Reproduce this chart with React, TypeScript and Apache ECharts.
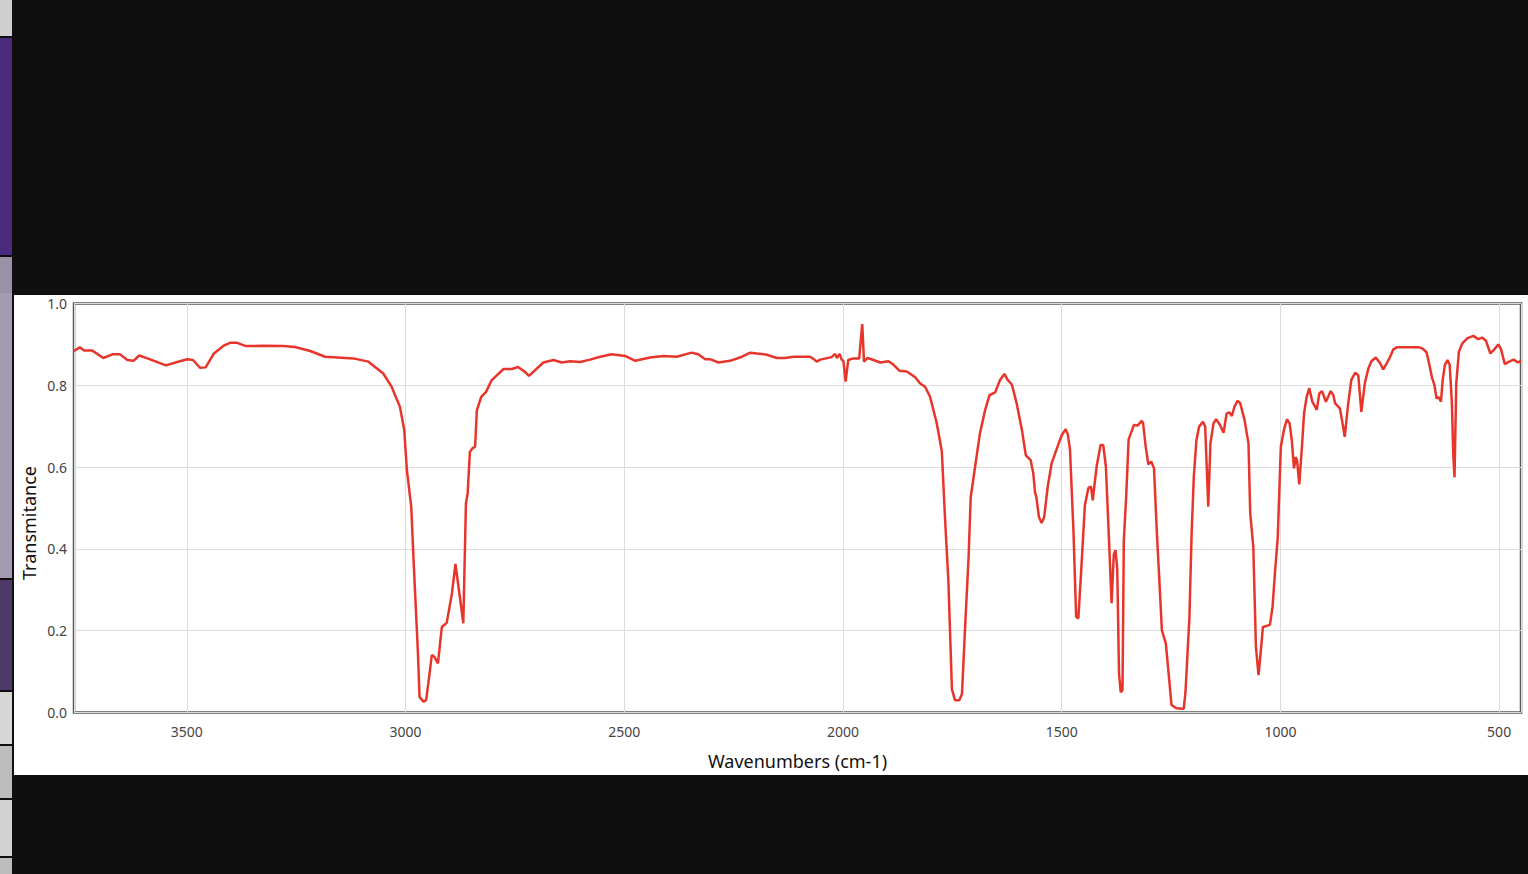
import React, { useEffect, useRef } from "react";
import * as echarts from "echarts";

const wavenumbers: number[] = [
  3758, 3745, 3735, 3716, 3691, 3670, 3653, 3636, 3622, 3609, 3590, 3548, 3522, 3499, 3486, 3470, 3457, 3438,
  3416, 3401, 3385, 3365, 3325, 3279, 3253, 3218, 3184, 3119, 3085, 3051, 3032, 3024, 3013, 3003, 2997, 2987,
  2981, 2972, 2968, 2959, 2953, 2948, 2940, 2934, 2926, 2917, 2906, 2894, 2886, 2879, 2868, 2862, 2858, 2853,
  2847, 2841, 2837, 2827, 2816, 2803, 2776, 2757, 2743, 2727, 2718, 2685, 2662, 2643, 2624, 2601, 2578, 2555,
  2529, 2498, 2475, 2441, 2411, 2380, 2346, 2331, 2315, 2304, 2285, 2258, 2231, 2212, 2197, 2174, 2151, 2132,
  2113, 2075, 2068, 2060, 2052, 2026, 2018, 2014, 2008, 2003, 1999, 1994, 1988, 1976, 1963, 1956, 1952, 1944,
  1930, 1915, 1896, 1885, 1871, 1854, 1835, 1824, 1812, 1801, 1786, 1774, 1767, 1759, 1751, 1744, 1734, 1728,
  1721, 1713, 1708, 1698, 1687, 1675, 1665, 1652, 1641, 1631, 1624, 1614, 1603, 1591, 1582, 1571, 1565, 1561,
  1558, 1552, 1546, 1540, 1532, 1523, 1511, 1500, 1491, 1486, 1481, 1473, 1467, 1462, 1456, 1447, 1439, 1433,
  1429, 1420, 1411, 1405, 1399, 1391, 1386, 1381, 1377, 1373, 1369, 1365, 1361, 1358, 1353, 1347, 1340, 1335,
  1326, 1317, 1314, 1308, 1302, 1295, 1289, 1282, 1276, 1271, 1262, 1257, 1249, 1238, 1221, 1217, 1208, 1203,
  1198, 1192, 1186, 1177, 1172, 1165, 1160, 1153, 1147, 1138, 1130, 1123, 1117, 1111, 1105, 1098, 1092, 1082,
  1073, 1069, 1062, 1056, 1050, 1044, 1040, 1024, 1018, 1012, 1006, 1003, 999, 992, 985, 979, 974, 969,
  965, 962, 957, 951, 946, 940, 934, 927, 917, 911, 905, 896, 885, 879, 875, 864, 858, 853,
  845, 838, 829, 822, 815, 807, 799, 792, 782, 772, 765, 757, 751, 742, 734, 705, 683, 675,
  666, 661, 653, 648, 643, 638, 633, 629, 624, 618, 613, 608, 605, 602, 598, 592, 584, 573,
  559, 548, 539, 530, 520, 511, 502, 496, 487, 477, 467, 457, 450,
];

const transmittance: number[] = [
  0.884, 0.893, 0.885, 0.885, 0.867, 0.876, 0.876, 0.862, 0.86, 0.873, 0.866, 0.849, 0.857, 0.864, 0.862, 0.843, 0.844, 0.878,
  0.897, 0.904, 0.904, 0.896, 0.897, 0.896, 0.894, 0.884, 0.87, 0.866, 0.858, 0.829, 0.797, 0.776, 0.748, 0.691, 0.593, 0.503,
  0.356, 0.152, 0.038, 0.026, 0.03, 0.071, 0.14, 0.136, 0.12, 0.209, 0.219, 0.291, 0.363, 0.307, 0.218, 0.511, 0.536, 0.637,
  0.646, 0.65, 0.739, 0.772, 0.784, 0.813, 0.84, 0.84, 0.845, 0.833, 0.823, 0.856, 0.862, 0.856, 0.859, 0.857, 0.863, 0.87,
  0.876, 0.872, 0.86, 0.868, 0.872, 0.87, 0.88, 0.876, 0.864, 0.864, 0.856, 0.86, 0.87, 0.88, 0.878, 0.875, 0.867, 0.867,
  0.87, 0.87, 0.865, 0.858, 0.863, 0.869, 0.877, 0.867, 0.877, 0.863, 0.859, 0.809, 0.862, 0.866, 0.866, 0.95, 0.858, 0.867,
  0.862, 0.856, 0.859, 0.851, 0.836, 0.834, 0.82, 0.805, 0.796, 0.772, 0.709, 0.638, 0.48, 0.32, 0.057, 0.03, 0.03, 0.045,
  0.205, 0.377, 0.527, 0.601, 0.682, 0.74, 0.776, 0.783, 0.813, 0.828, 0.814, 0.802, 0.756, 0.691, 0.629, 0.617, 0.585, 0.538,
  0.527, 0.478, 0.463, 0.478, 0.552, 0.609, 0.646, 0.678, 0.693, 0.68, 0.642, 0.44, 0.234, 0.23, 0.336, 0.507, 0.549, 0.552,
  0.519, 0.603, 0.654, 0.654, 0.601, 0.4, 0.267, 0.385, 0.397, 0.35, 0.095, 0.049, 0.055, 0.421, 0.519, 0.668, 0.688, 0.703,
  0.702, 0.713, 0.708, 0.65, 0.607, 0.613, 0.597, 0.43, 0.307, 0.201, 0.169, 0.112, 0.018, 0.01, 0.009, 0.05, 0.234, 0.438,
  0.576, 0.666, 0.699, 0.711, 0.699, 0.503, 0.658, 0.707, 0.717, 0.703, 0.684, 0.731, 0.734, 0.725, 0.748, 0.762, 0.757, 0.715,
  0.658, 0.487, 0.405, 0.16, 0.091, 0.16, 0.209, 0.214, 0.258, 0.348, 0.43, 0.527, 0.65, 0.691, 0.717, 0.707, 0.666, 0.597,
  0.624, 0.617, 0.558, 0.646, 0.731, 0.772, 0.793, 0.76, 0.74, 0.78, 0.786, 0.76, 0.786, 0.776, 0.756, 0.744, 0.707, 0.674,
  0.756, 0.813, 0.831, 0.825, 0.735, 0.805, 0.841, 0.859, 0.868, 0.854, 0.839, 0.854, 0.866, 0.888, 0.893, 0.893, 0.893, 0.89,
  0.881, 0.858, 0.817, 0.801, 0.768, 0.771, 0.76, 0.813, 0.85, 0.862, 0.85, 0.756, 0.634, 0.575, 0.805, 0.882, 0.903, 0.915,
  0.921, 0.913, 0.917, 0.909, 0.878, 0.888, 0.9, 0.89, 0.852, 0.858, 0.863, 0.856, 0.86,
];

const xTitle = "Wavenumbers (cm-1)";
const yTitle = "Transmitance";

const FONT = "'Noto Sans', 'Open Sans', sans-serif";

const sideStrips = [
  { top: 0, height: 36, color: "#cfcfcf" },
  { top: 38, height: 217, color: "#4a2a7c" },
  { top: 257, height: 36, color: "#9b91a6" },
  { top: 293, height: 285, color: "#a59bb1" },
  { top: 580, height: 110, color: "#4c3869" },
  { top: 692, height: 52, color: "#d6d6d6" },
  { top: 746, height: 52, color: "#bdbdbd" },
  { top: 800, height: 56, color: "#d2d2d2" },
  { top: 858, height: 16, color: "#bdbdbd" },
];

export default function App() {
  const ref = useRef<HTMLDivElement>(null);

  useEffect(() => {
    if (!ref.current) return;
    const chart = echarts.init(ref.current, undefined, { renderer: "svg" });
    const data = wavenumbers.map((w, i) => [w, transmittance[i]]);
    chart.setOption({
      animation: false,
      backgroundColor: "#ffffff",
      grid: {
        left: 60,
        top: 8.6,
        width: 1447,
        height: 408.8,
        show: true,
        borderColor: "#595959",
        borderWidth: 2.5,
        backgroundColor: "transparent",
      },
      xAxis: {
        type: "value",
        inverse: true,
        min: 450,
        max: 3758,
        splitNumber: 6,
        axisLine: { show: false },
        axisTick: { show: false },
        axisLabel: {
          color: "#444",
          fontSize: 14,
          fontFamily: FONT,
          margin: 12,
          showMinLabel: false,
          showMaxLabel: false,
          formatter: (v: number) => String(v),
        },
        splitLine: { show: true, lineStyle: { color: "#dcdcdc", width: 1 } },
      },
      yAxis: {
        type: "value",
        min: 0,
        max: 1,
        interval: 0.2,
        axisLine: { show: false },
        axisTick: { show: false },
        axisLabel: {
          color: "#444",
          fontSize: 14,
          fontFamily: FONT,
          margin: 7,
          formatter: (v: number) => v.toFixed(1),
        },
        splitLine: { show: true, lineStyle: { color: "#dcdcdc", width: 1 } },
      },
      graphic: [
        {
          type: "text",
          x: 783.5,
          y: 466,
          style: {
            text: xTitle,
            fill: "#111",
            fontSize: 18,
            fontFamily: FONT,
            align: "center",
            verticalAlign: "middle",
          },
        },
        {
          type: "text",
          x: 15,
          y: 228,
          rotation: Math.PI / 2,
          style: {
            text: yTitle,
            fill: "#111",
            fontSize: 18,
            fontFamily: FONT,
            align: "center",
            verticalAlign: "middle",
          },
        },
      ],
      series: [
        {
          type: "line",
          data,
          showSymbol: false,
          symbol: "none",
          smooth: false,
          lineStyle: { color: "#e8352b", width: 2.5 },
          z: 3,
        },
      ],
    });
    return () => chart.dispose();
  }, []);

  return (
    <div
      style={{
        position: "fixed",
        left: 0,
        top: 0,
        width: 1528,
        height: 874,
        background: "#0f0f0f",
        overflow: "hidden",
      }}
    >
      {sideStrips.map((s, i) => (
        <div
          key={i}
          style={{
            position: "absolute",
            left: 0,
            top: s.top,
            width: 12,
            height: s.height,
            background: s.color,
          }}
        />
      ))}
      <div
        style={{
          position: "absolute",
          left: 14,
          top: 295,
          width: 1514,
          height: 480,
          background: "#ffffff",
        }}
      >
        <div ref={ref} style={{ width: 1514, height: 480 }} />
      </div>
    </div>
  );
}
